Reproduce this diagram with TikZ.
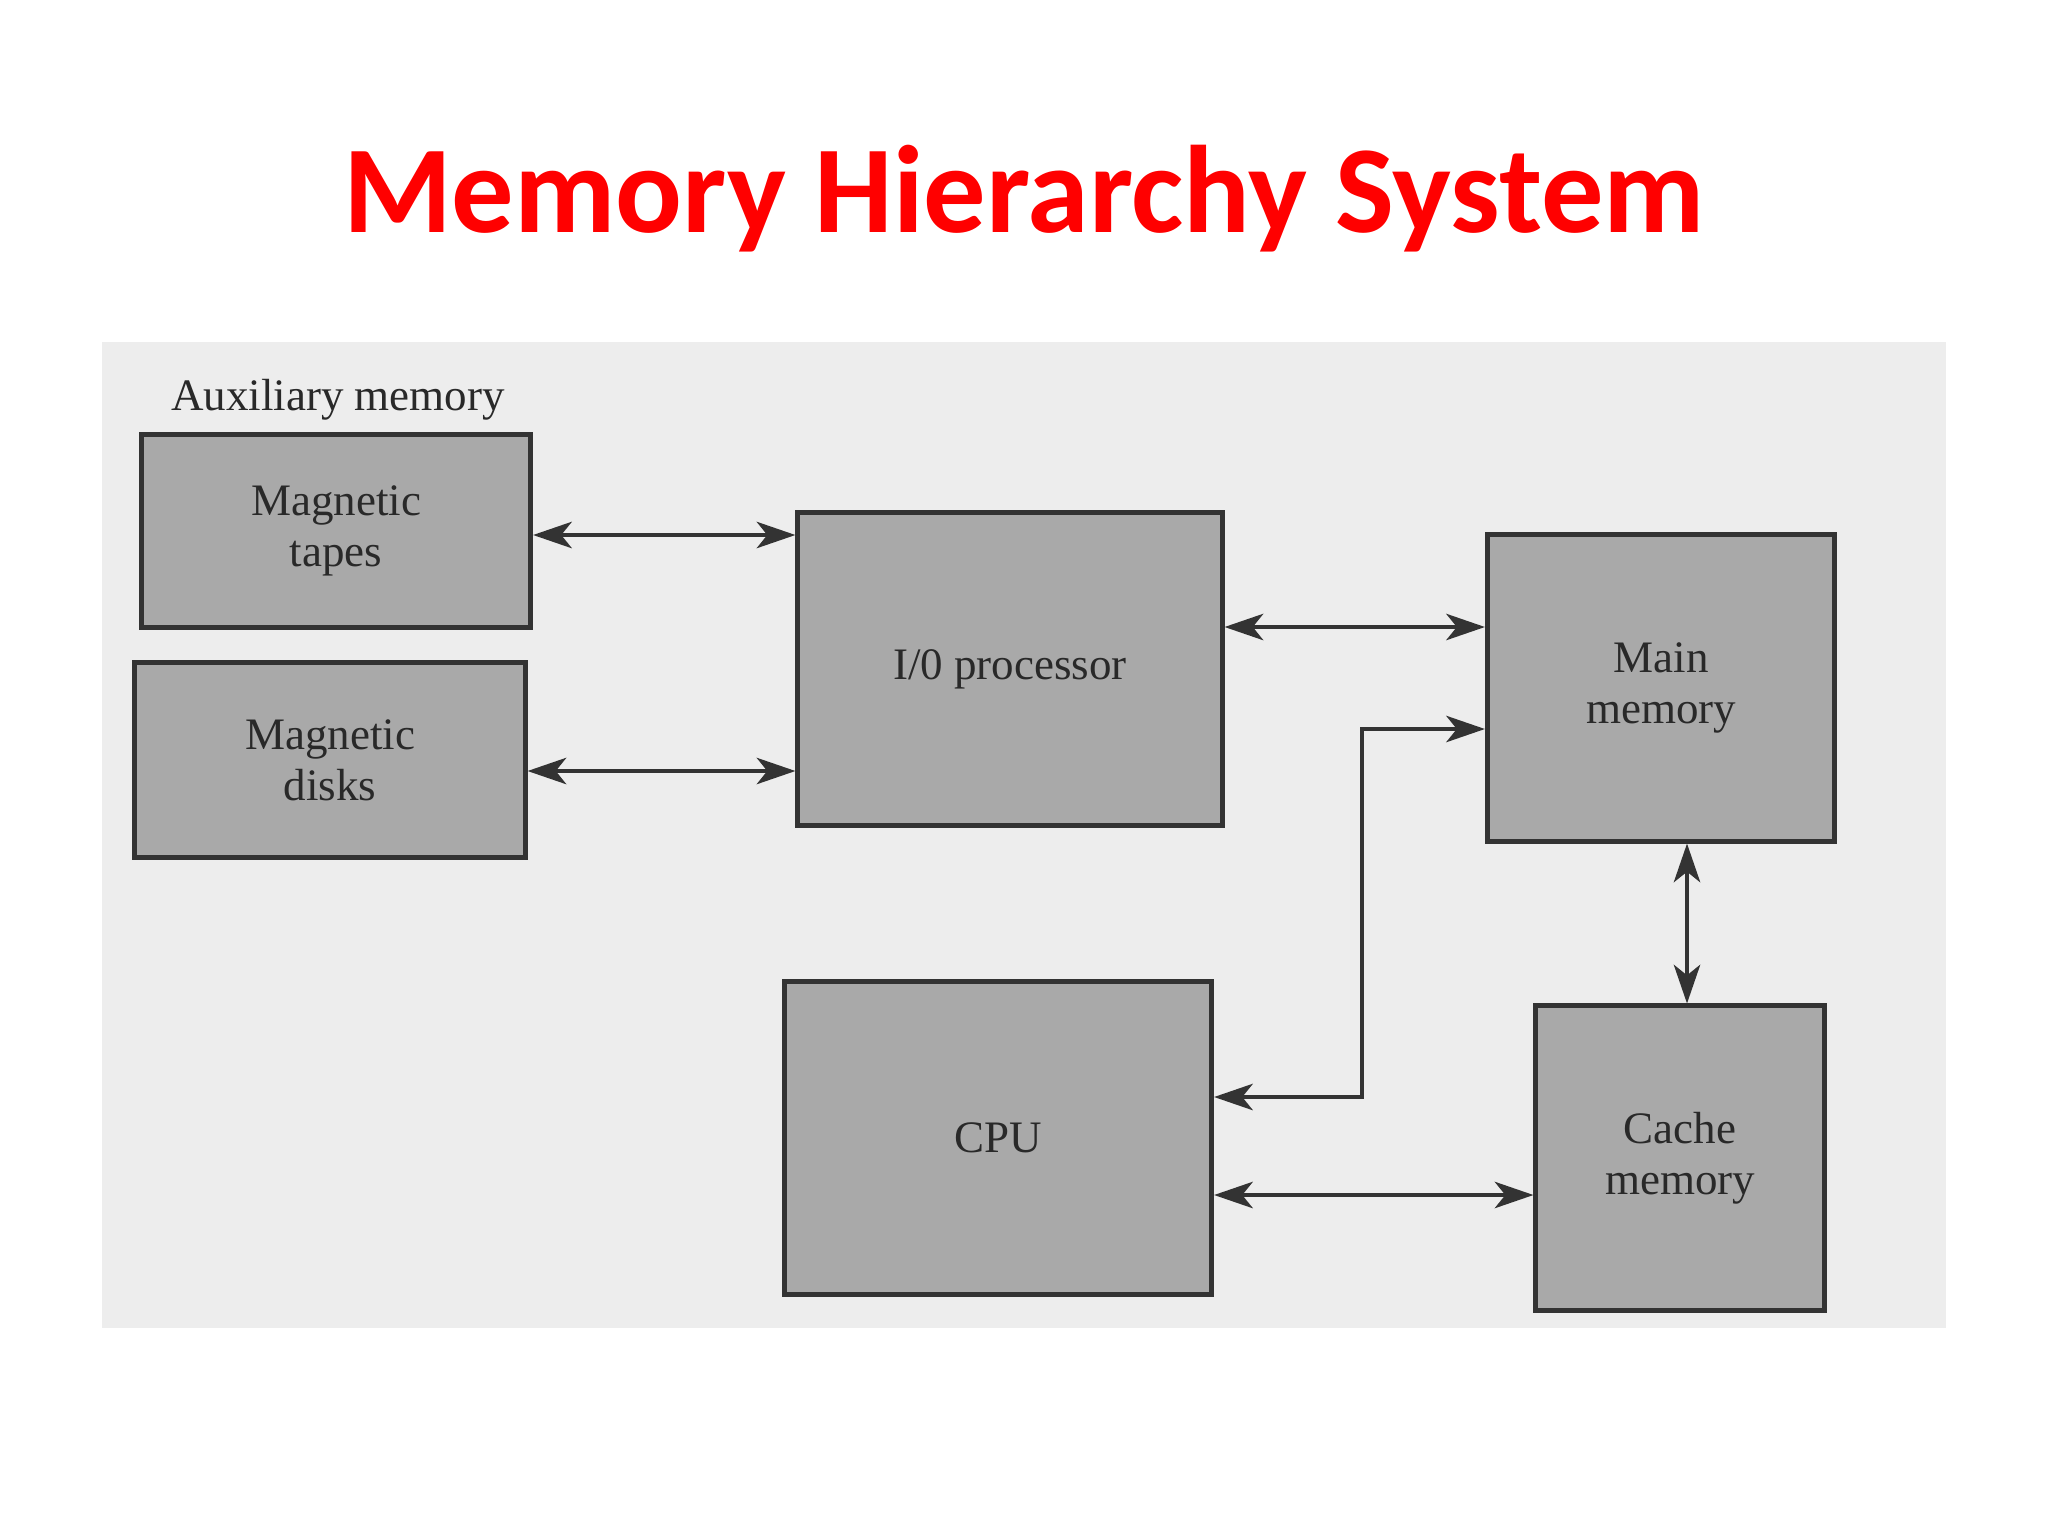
\documentclass[tikz,border=0pt]{standalone}
\usepackage{fontspec}
\setmainfont{Liberation Serif}
\newfontfamily\titlefont{Carlito}
\usetikzlibrary{arrows.meta}
\definecolor{bggray}{HTML}{EDEDED}
\definecolor{boxgray}{HTML}{A9A9A9}
\definecolor{inkgray}{HTML}{333333}
\definecolor{titlered}{HTML}{FF0000}
\tikzset{
  blockbox/.style={draw=inkgray, line width=1.4pt, fill=boxgray, inner sep=0pt,
    font=\fontsize{12.8}{14.4}\selectfont, text=inkgray!80!black, align=center},
  arr/.style={draw=inkgray, line width=1.1pt, {Stealth[length=11pt,width=7.5pt,inset=3pt]}-{Stealth[length=11pt,width=7.5pt,inset=3pt]}},
}
\begin{document}
\begin{tikzpicture}[x=0.01cm,y=-0.01cm]
\useasboundingbox (0,0) rectangle (2048,1536);
\fill[white] (0,0) rectangle (2048,1536);
\fill[bggray] (102,342) rectangle (1946,1328);
\node[font=\titlefont\bfseries\fontsize{35.4}{42}\selectfont, text=titlered, anchor=base] (title) at (1024,232) {Memory Hierarchy System};
\node[font=\fontsize{12.8}{14.4}\selectfont, text=inkgray!80!black, anchor=base] (aux) at (338,410) {Auxiliary memory};
\node[blockbox, minimum width=38.9mm, minimum height=19.2mm] (tapes) at (336,531) {Magnetic\\tapes};
\node[blockbox, minimum width=39mm, minimum height=19.5mm] (disks) at (330,760) {Magnetic\\disks};
\node[blockbox, minimum width=42.4mm, minimum height=31.2mm] (io) at (1010,669) {I/0 processor};
\node[blockbox, minimum width=34.7mm, minimum height=30.6mm] (main) at (1661,688) {Main\\memory};
\node[blockbox, minimum width=42.7mm, minimum height=31.2mm] (cpu) at (998,1138) {CPU};
\node[blockbox, minimum width=28.8mm, minimum height=30.4mm] (cache) at (1680,1158) {Cache\\memory};
\coordinate (ya) at (0,535);
\coordinate (yb) at (0,771);
\coordinate (yc) at (0,627);
\coordinate (yd) at (0,729);
\coordinate (ye) at (0,1097);
\coordinate (yf) at (0,1195);
\coordinate (xv) at (1687,0);
\coordinate (bend1) at (1362,729);
\coordinate (bend2) at (1362,1097);
\draw[arr] (tapes.east |- ya) -- (io.west |- ya);
\draw[arr] (disks.east |- yb) -- (io.west |- yb);
\draw[arr] (io.east |- yc) -- (main.west |- yc);
\draw[arr] (main.west |- yd) -- (bend1) -- (bend2) -- (cpu.east |- ye);
\draw[arr] (xv |- main.south) -- (xv |- cache.north);
\draw[arr] (cpu.east |- yf) -- (cache.west |- yf);
\end{tikzpicture}
\end{document}
